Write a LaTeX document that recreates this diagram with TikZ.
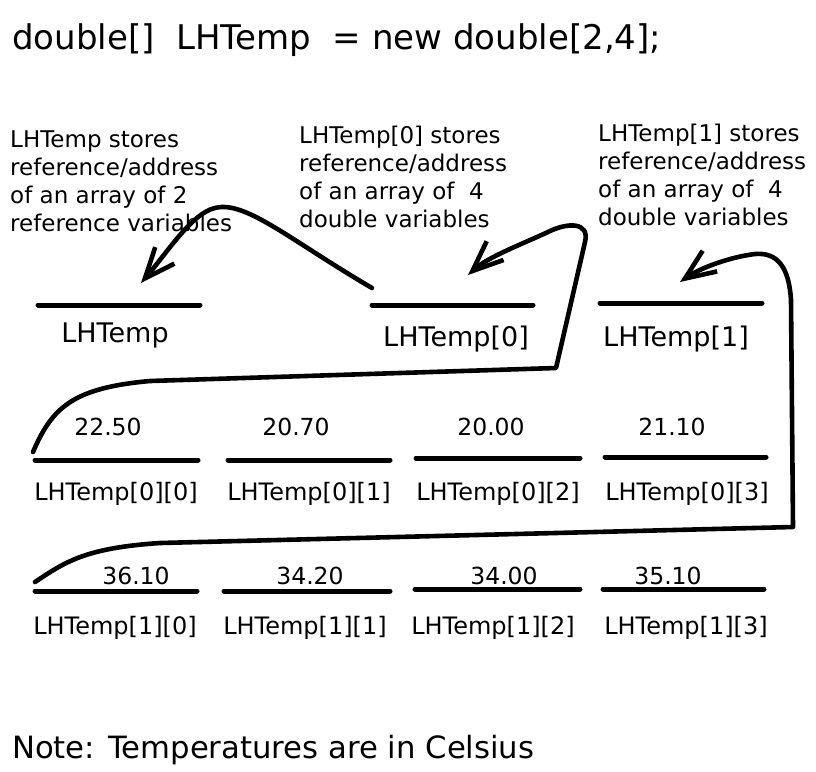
\documentclass[tikz,border=0pt]{standalone}
\usepackage{fontspec}
\setmainfont{DejaVu Sans}
\usetikzlibrary{arrows.meta}
\begin{document}
\begin{tikzpicture}[x=1pt,y=-1pt,
  ul/.style={line width=5pt, line cap=round},
  conn/.style={line width=4.6pt, line cap=round, line join=round},
  arr/.style={conn, -{Straight Barb[angle=45:33pt, line width=4.6pt]}},
  note/.style={inner sep=0pt, anchor=north west, align=left, font=\fontsize{23}{28}\selectfont},
  val/.style={inner sep=0pt, anchor=base, font=\fontsize{23.5}{28}\selectfont},
  lab/.style={inner sep=0pt, anchor=base, font=\fontsize{24}{28}\selectfont},
  big/.style={inner sep=0pt, anchor=base, font=\fontsize{27}{30}\selectfont}]
\useasboundingbox (0,0) rectangle (816,771);

% title
\node[inner sep=0pt, anchor=base west, font=\fontsize{34}{40}\selectfont] (title) at (12,49) {double[]\ \ LHTemp\ \ = new double[2,4];};

% annotations
\node[note] (n1) at (10,131) {LHTemp stores\\reference/address\\of an array of 2\\reference variables};
\node[note] (n2) at (299,126) {LHTemp[0] stores\\reference/address\\of an array of\ \ 4\\double variables};
\node[note] (n3) at (598,124) {LHTemp[1] stores\\reference/address\\of an array of\ \ 4\\double variables};

% top row underlines
\coordinate (r0a) at (38,305);  \coordinate (r0b) at (200,305);
\coordinate (r1a) at (372,305); \coordinate (r1b) at (533,305);
\coordinate (r2a) at (600,303); \coordinate (r2b) at (762,303);
\draw[ul] (r0a) -- (r0b);
\draw[ul] (r1a) -- (r1b);
\draw[ul] (r2a) -- (r2b);
\node[big] (l0) at (115,342) {LHTemp};
\node[big] (l1) at (456,346) {LHTemp[0]};
\node[big] (l2) at (676,346) {LHTemp[1]};

% row 0 cells
\coordinate (a0a) at (35,460);  \coordinate (a0b) at (198,460);
\coordinate (a1a) at (228,460); \coordinate (a1b) at (390,460);
\coordinate (a2a) at (416,458); \coordinate (a2b) at (580,458);
\coordinate (a3a) at (605,457); \coordinate (a3b) at (766,457);
\draw[ul] (a0a) -- (a0b);
\draw[ul] (a1a) -- (a1b);
\draw[ul] (a2a) -- (a2b);
\draw[ul] (a3a) -- (a3b);
\node[val] (v00) at (108,435) {22.50};
\node[val] (v01) at (296,435) {20.70};
\node[val] (v02) at (491,435) {20.00};
\node[val] (v03) at (672,435) {21.10};
\node[lab] (c00) at (116,500) {LHTemp[0][0]};
\node[lab] (c01) at (309,500) {LHTemp[0][1]};
\node[lab] (c02) at (498,500) {LHTemp[0][2]};
\node[lab] (c03) at (687,500) {LHTemp[0][3]};

% row 1 cells
\coordinate (b0a) at (35,591);  \coordinate (b0b) at (197,591);
\coordinate (b1a) at (224,591); \coordinate (b1b) at (390,591);
\coordinate (b2a) at (415,589); \coordinate (b2b) at (580,589);
\coordinate (b3a) at (603,589); \coordinate (b3b) at (764,589);
\draw[ul] (b0a) -- (b0b);
\draw[ul] (b1a) -- (b1b);
\draw[ul] (b2a) -- (b2b);
\draw[ul] (b3a) -- (b3b);
\node[val] (v10) at (136,584) {36.10};
\node[val] (v11) at (310,584) {34.20};
\node[val] (v12) at (504,584) {34.00};
\node[val] (v13) at (668,584) {35.10};
\node[lab] (c10) at (115,634) {LHTemp[1][0]};
\node[lab] (c11) at (305,634) {LHTemp[1][1]};
\node[lab] (c12) at (493,634) {LHTemp[1][2]};
\node[lab] (c13) at (686,634) {LHTemp[1][3]};

% note
\node[inner sep=0pt, anchor=base west, font=\fontsize{30.7}{36}\selectfont] (foot) at (12,758) {Note: Temperatures are in Celsius};

% connectors
\coordinate (s1) at (372,288);
\coordinate (t1) at (141,283);
\draw[arr] (s1) .. controls (290,240) and (245,200) .. (215,208)
               .. controls (192,213) and (166,254) .. (t1);

\coordinate (s2) at (33,452);
\coordinate (t2) at (468,275);
\draw[arr] (s2) .. controls (52,408) and (72,388) .. (150,381)
               -- (556,368) -- (585,242)
               .. controls (590,222) and (568,222) .. (548,232)
               .. controls (520,245) and (488,257) .. (t2);

\coordinate (s3) at (35,582);
\coordinate (t3) at (680,282);
\draw[arr] (s3) .. controls (65,562) and (85,548) .. (160,543)
               -- (793,527) -- (791,300)
               .. controls (789,268) and (778,252) .. (755,254)
               .. controls (730,257) and (700,268) .. (t3);
\end{tikzpicture}
\end{document}
